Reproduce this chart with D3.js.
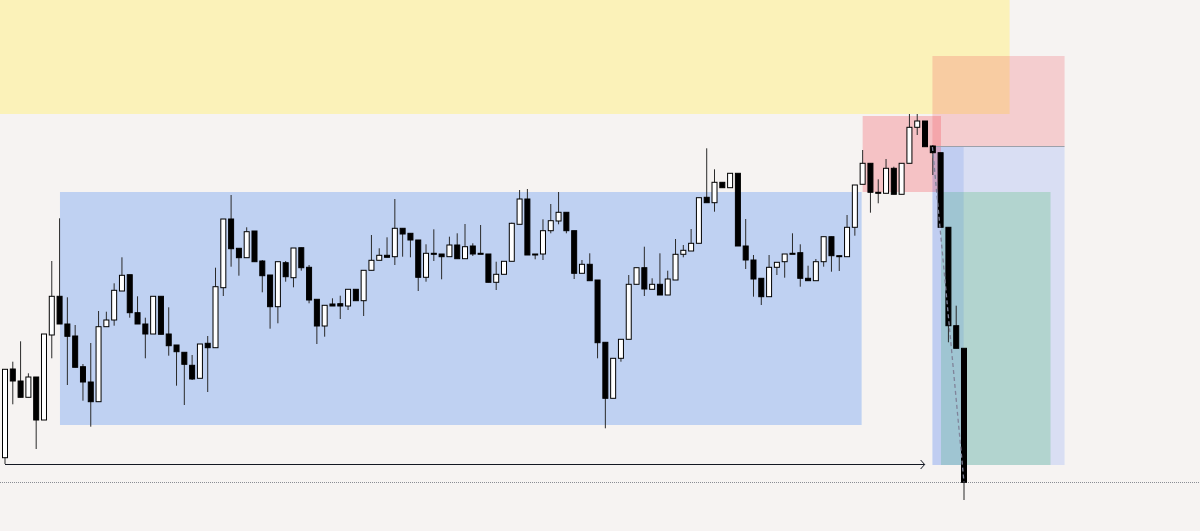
<!DOCTYPE html>
<html>
<head>
<meta charset="utf-8">
<script src="https://cdn.jsdelivr.net/npm/d3@7"></script>
<style>
  html, body { margin: 0; padding: 0; background: #f6f3f2; }
  svg { display: block; }
</style>
</head>
<body>
<svg id="chart" width="1200" height="531"></svg>
<script>
// ---- DATA (price units) ----
const opens = [142.3,231,219,202.7,223,180,265,303.7,276,264,233.3,218,198.3,273.3,280,309,325.3,287.3,276,266,
303.7,266,255,247.7,234.7,221.7,256.7,252.3,312.3,381,351.7,342.3,369,339,325,293.3,337.3,322.3,352.3,332.7,
300.7,274,296,296.3,294,310.7,299.3,329.7,339.7,344.7,343.3,371.7,366.7,360,322.7,346.7,346,343.3,355,341.3,
354,346.7,346,317.7,325.7,338.7,375.7,401,346,346,369.3,379,387.7,369.3,326.7,335.7,320,257.7,201.7,241.7,
260.7,315.7,332.3,310.7,315.7,305,320,345.7,349,356.7,402.7,397.3,417.7,412.3,426.7,354,340,321.7,303.3,332.7,
338.3,346.7,347.3,321.7,319.3,338.3,363.3,344.3,343.3,372.7,415.7,436.7,407.7,406.7,431.7,405.7,436.7,472.7,479,454,
447.3,372.7,274.3,251.7];
const highs = [231,238.3,258.7,226.7,223,266,339,381.7,302.7,275,236,257,289,288.3,316.7,342.7,325.3,303.7,282.3,303.7,
303.7,292.7,255,247.7,245,256,264,332.3,381,405,351.7,372.7,369,340,325,338.3,339,352,352.3,335,
300.7,294.7,301.7,304.3,310.7,310.7,329.7,365,351.7,362.7,401,371.7,366.7,360,355.7,370.7,346,363.3,366.7,376,
356.7,375,346,338.3,338.7,377.3,410,411,346,380.7,396,408,387.7,369.3,340,346.7,320,257.7,241.7,260.7,
325,332.3,353.3,321.7,346.7,329.3,361,355,371,402.3,451.7,430.7,417.7,426.7,426.7,381,345,321.7,345,337.7,
346,366.7,355.7,334.3,341,363.3,363.3,344.3,385,415,450,436.7,420.7,441,433.3,436.7,486,486,479,455,
447.3,372.7,294.3,251.7];
const lows = [136,195.7,202.7,202.7,151,180,241.7,276,215,232.7,199.3,173.3,198.3,273.3,274.3,309,282.3,276,241.7,266,
265.7,244.3,214.3,195,220,221.7,208,252.3,304,333.3,324.3,342.3,338.3,307.7,271.3,276.7,318.3,312.7,329.3,296.7,
256,263.3,294,281,290,299.3,284,329.7,339.7,342.7,335,343.3,342.7,309,318.3,339,320.7,343.3,341.3,341.3,
344,346,317.7,310,325.7,338.7,375.7,345,340.7,340,366.7,375.7,366.7,321,326.7,319.3,241.7,171.7,201.7,238.3,
260.7,315.7,304,310.7,305,305,320,342.7,349,356.7,397.3,388.3,412.3,412.3,354,331,303.3,295,303.3,325,
322.3,346.7,313.3,319.3,319.3,333.3,328.3,329,343.3,364.3,415.7,387.3,396.7,406.7,405.7,405.7,436.7,465,453.3,425,
372.7,257.7,251.7,100];
const closes = [230.7,219,202.7,223,180,266,303.7,276,263.7,232.7,218,198.3,273.3,280,309.7,324.7,287.3,276,266,303.7,
265.7,254.3,248.3,235.7,221,256,252.3,313.3,381,351.3,342.3,368.3,338.3,324.3,293.3,338.3,323.3,352,332.3,300,
274,294.7,294,294,310.7,299.3,329.7,339.7,344.7,342.7,371.7,366,360,322.7,346.7,346.7,343.3,355,341.3,353.3,
346,346.7,317.7,325.7,338.7,376.7,401,345,346,369.3,379.3,387.7,369.3,326.7,335.7,319.3,257.3,201.7,241.7,260.7,
315.7,332.3,311,315.7,305,321,345.7,349.7,356.7,402.3,397.3,417.7,412.3,426.7,354,340,321,303.3,332.7,337.7,
346,346.7,321.7,319.3,338.3,363.3,344.3,344.3,372.7,415,436.7,407.7,407.7,431.7,405.7,436.7,472.7,479,453.3,447.3,
372.7,274.3,251.7,117.7];

// Zones / annotations: [startIndex, endIndex, lowPrice, highPrice]
const yellowZone   = [-1, 128.85, 486, 620];
const supplyZone   = [110, 120.05, 408, 484];
const rangeZone    = [7.05, 109.87, 175, 408];
const stopZone     = [118.95, 135.9, 454, 544];
const targetZone   = [118.95, 135.9, 135, 453];
const activeZone   = [118.95, 122.95, 135, 453];
const greenZone    = [120.05, 134.1, 135, 408];
const entryPrice   = 453.5;
const arrowLine    = [[0, 135.5], [117.95, 135.5]];
const tradeLine    = [[118.95, 453], [123, 117.7]];

// ---- CHART ----
const W = 1200, H = 531;
const n = closes.length;
const x = d3.scaleLinear().domain([0, n - 1]).range([5, 964]);
const y = d3.scaleLinear().domain([69, 600]).range([H, 0]);
const svg = d3.select("#chart");

function zone(z, fill) {
  svg.append("rect")
    .attr("x", x(z[0])).attr("width", x(z[1]) - x(z[0]))
    .attr("y", y(z[3])).attr("height", y(z[2]) - y(z[3]))
    .attr("fill", fill);
}

zone(yellowZone, "#fbf2b9");
zone(rangeZone, "#bfd1f2");
zone(stopZone, "rgba(242,54,69,0.2)");
zone(targetZone, "rgba(41,98,255,0.14)");
zone(greenZone, "#b2d4cf");
zone(activeZone, "rgba(60,120,230,0.16)");
zone(supplyZone, "rgba(242,54,69,0.26)");

// entry line
svg.append("line")
  .attr("x1", x(stopZone[0])).attr("x2", x(stopZone[1]))
  .attr("y1", y(entryPrice)).attr("y2", y(entryPrice))
  .attr("stroke", "#9ca0aa").attr("stroke-width", 1.2);

// last price dotted line
svg.append("line")
  .attr("x1", 0).attr("x2", W)
  .attr("y1", Math.round(y(closes[n - 1])) + 0.5).attr("y2", Math.round(y(closes[n - 1])) + 0.5)
  .attr("stroke", "#8a8d94").attr("stroke-width", 1).attr("stroke-dasharray", "1,1");

// candles
const data = d3.range(n).map(i => ({i, o: opens[i], h: highs[i], l: lows[i], c: closes[i]}));
const bw = 5;
const g = svg.append("g");
g.selectAll("line.wick").data(data).join("line")
  .attr("class", "wick")
  .attr("x1", d => x(d.i)).attr("x2", d => x(d.i))
  .attr("y1", d => y(d.h)).attr("y2", d => y(d.l))
  .attr("stroke", "#2a2a2a").attr("stroke-width", 1);
g.selectAll("rect.body").data(data).join("rect")
  .attr("class", "body")
  .attr("x", d => x(d.i) - bw / 2)
  .attr("width", bw)
  .attr("y", d => y(Math.max(d.o, d.c)))
  .attr("height", d => Math.max(1, Math.abs(y(d.o) - y(d.c))))
  .attr("fill", d => d.c > d.o ? "#ffffff" : "#000000")
  .attr("stroke", "#000000").attr("stroke-width", 1);

// dashed trade line
svg.append("line")
  .attr("x1", x(tradeLine[0][0])).attr("y1", y(tradeLine[0][1]))
  .attr("x2", x(tradeLine[1][0])).attr("y2", y(tradeLine[1][1]))
  .attr("stroke", "#80849a").attr("stroke-width", 1.3).attr("stroke-dasharray", "4,3");

// arrow
const ax1 = x(arrowLine[0][0]), ax2 = x(arrowLine[1][0]), ay = y(arrowLine[0][1]);
svg.append("line")
  .attr("x1", ax1).attr("x2", ax2).attr("y1", ay).attr("y2", ay)
  .attr("stroke", "#131722").attr("stroke-width", 1);
svg.append("path")
  .attr("d", `M${ax2 - 4},${ay - 4.5} L${ax2},${ay} L${ax2 - 4},${ay + 4.5}`)
  .attr("fill", "none").attr("stroke", "#131722").attr("stroke-width", 1);
</script>
</body>
</html>
